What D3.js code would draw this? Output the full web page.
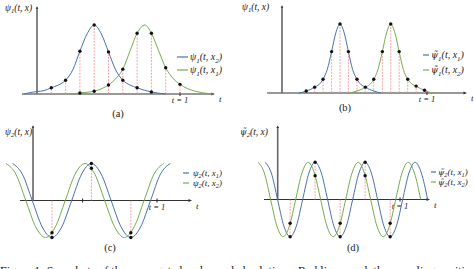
<!DOCTYPE html>
<html>
<head>
<meta charset="utf-8">
<script src="https://cdn.jsdelivr.net/npm/d3@7"></script>
<style>
  body { margin: 0; background: #fff; }
  svg { display: block; }
  text { font-family: "Liberation Serif", "DejaVu Serif", serif; fill: #222; }
</style>
</head>
<body>
<svg id="fig" width="474" height="269"></svg>
<script>
// values (t along the axis, curve height with peak = 1)

// (a) propagated bumps
const tA_blue = [-0.09, -0.05, 0, 0.05, 0.1, 0.15, 0.2, 0.25, 0.3, 0.35, 0.4, 0.45, 0.5, 0.55, 0.6, 0.65, 0.7, 0.75, 0.8, 0.85, 0.9];
const vA_blue = [0, 0.02, 0.035, 0.05, 0.09, 0.13, 0.2, 0.35, 0.62, 0.87, 1, 0.87, 0.61, 0.35, 0.2, 0.13, 0.09, 0.055, 0.03, 0.012, 0];
const tA_green = [0.23, 0.3, 0.35, 0.4, 0.45, 0.5, 0.55, 0.6, 0.65, 0.7, 0.755, 0.8, 0.85, 0.9, 0.95, 1.0, 1.05, 1.1, 1.15, 1.2, 1.23];
const vA_green = [0, 0.015, 0.025, 0.04, 0.075, 0.13, 0.22, 0.36, 0.62, 0.88, 1, 0.88, 0.63, 0.38, 0.23, 0.14, 0.08, 0.045, 0.02, 0.007, 0];
const sampA_t = [0.1, 0.2, 0.3, 0.4, 0.5, 0.6, 0.7, 0.8, 0.9, 1.0];
const sampA_blue = [0.09, 0.2, 0.62, 1, 0.61, 0.2, 0.09, 0.03, null, null];
const sampA_green = [null, null, 0.015, 0.04, 0.13, 0.36, 0.88, 0.88, 0.38, 0.14];

// (b) narrower bumps, denser samples
const tB_blue = [0.115, 0.145, 0.167, 0.196, 0.225, 0.254, 0.283, 0.312, 0.342, 0.371, 0.4, 0.429, 0.458, 0.487, 0.517, 0.546, 0.575, 0.604, 0.633, 0.66, 0.685];
const vB_blue = [0, 0.012, 0.03, 0.05, 0.085, 0.12, 0.2, 0.34, 0.6, 0.87, 1, 0.87, 0.6, 0.34, 0.2, 0.12, 0.085, 0.05, 0.03, 0.012, 0];
const tB_green = [0.465, 0.49, 0.517, 0.546, 0.575, 0.604, 0.633, 0.662, 0.692, 0.721, 0.75, 0.779, 0.808, 0.837, 0.867, 0.896, 0.925, 0.954, 0.983, 1.01, 1.045];
const vB_green = [0, 0.012, 0.03, 0.05, 0.085, 0.12, 0.2, 0.34, 0.6, 0.87, 1, 0.87, 0.6, 0.34, 0.2, 0.13, 0.1, 0.065, 0.04, 0.015, 0];
const sampB_t = [0.167, 0.225, 0.283, 0.342, 0.4, 0.458, 0.517, 0.575, 0.633, 0.692, 0.75, 0.808, 0.867, 0.925, 0.983];
const sampB_v = [0.03, 0.085, 0.2, 0.6, 1, 0.6, 0.2, 0.085, 0.2, 0.6, 1, 0.6, 0.2, 0.1, 0.04];

// (c) slow waves
const tC_blue = [-0.165, -0.0855, -0.006, 0.0735, 0.153, 0.2325, 0.312, 0.3915, 0.471, 0.5505, 0.63, 0.7095, 0.789, 0.8685, 0.948, 1.0275, 1.107];
const vC_blue = [1, 0.71, 0, -0.71, -1, -0.71, 0, 0.71, 1, 0.71, 0, -0.71, -1, -0.71, 0, 0.71, 1];
const tC_green = [-0.217, -0.1375, -0.058, 0.0215, 0.101, 0.1805, 0.26, 0.3395, 0.419, 0.4985, 0.578, 0.6575, 0.737, 0.8165, 0.896, 0.9755, 1.055];
const vC_green = [1, 0.71, 0, -0.71, -1, -0.71, 0, 0.71, 1, 0.71, 0, -0.71, -1, -0.71, 0, 0.71, 1];
const sampC_t = [0.153, 0.471, 0.789];
const sampC_blue = [-1, 1, -1];
const sampC_green = [-0.87, 0.87, -0.87];
const ticksC = [0.4, 1];

// (d) fast waves
const tD_blue = [-0.103, -0.052, -0.001, 0.05, 0.1015, 0.153, 0.204, 0.255, 0.306, 0.357, 0.408, 0.459, 0.5105, 0.562, 0.613, 0.664, 0.715, 0.766, 0.817, 0.868, 0.9195, 0.971, 1.022, 1.073, 1.124, 1.175, 1.226];
const vD_blue = [1, 0.71, 0, -0.71, -1, -0.71, 0, 0.71, 1, 0.71, 0, -0.71, -1, -0.71, 0, 0.71, 1, 0.71, 0, -0.71, -1, -0.71, 0, 0.71, 1, 0.71, 0];
const tD_green = [-0.16, -0.109, -0.058, -0.007, 0.0445, 0.096, 0.147, 0.198, 0.249, 0.3, 0.351, 0.402, 0.4535, 0.505, 0.556, 0.607, 0.658, 0.709, 0.76, 0.811, 0.8625, 0.914, 0.965, 1.016, 1.067, 1.118, 1.169];
const vD_green = [1, 0.71, 0, -0.71, -1, -0.71, 0, 0.71, 1, 0.71, 0, -0.71, -1, -0.71, 0, 0.71, 1, 0.71, 0, -0.71, -1, -0.71, 0, 0.71, 1, 0.71, 0];
const sampD_t = [0.1015, 0.306, 0.5105, 0.715, 0.9195];
const sampD_blue = [-1, 1, -1, 1, -1];
const sampD_green = [-0.64, 0.64, -0.64, 0.64, -0.64];

const BLUE = "#4a70ad", GREEN = "#74ad4c", RED = "#f08c8c";

const svg = d3.select("#fig");

// ψ with subscripts; tilde as a combining mark (DejaVu places it properly)
function mathText(g, x, y, fs, tilde, sub, argSub) {
  const t = g.append("text").attr("x", x).attr("y", y)
    .attr("font-size", fs).style("font-style", "italic");
  if (tilde) {
    t.append("tspan").style("font-family", "'DejaVu Serif'")
      .attr("font-size", fs * 0.9).text("\u03C8\u0303");
  } else {
    t.append("tspan").text("\u03C8");
  }
  t.append("tspan").attr("font-size", fs * 0.7).attr("dy", fs * 0.22).text(sub);
  t.append("tspan").attr("dy", -fs * 0.22).text("(t, x");
  if (argSub) {
    t.append("tspan").attr("font-size", fs * 0.7).attr("dy", fs * 0.22).text(argSub);
    t.append("tspan").attr("dy", -fs * 0.22).text(")");
  } else {
    t.append("tspan").text(")");
  }
}

function drawPanel(p) {
  const x = d3.scaleLinear().domain([0, 1]).range([p.x0, p.x1]);
  const y = d3.scaleLinear().domain([0, 1]).range([p.yBase, p.yOne]);
  const g = svg.append("g");

  // axes
  g.append("line")
    .attr("x1", x(p.axisT[0])).attr("x2", x(p.axisT[1]))
    .attr("y1", y(0)).attr("y2", y(0))
    .attr("stroke", "#333").attr("stroke-width", 1.1);
  g.append("path")
    .attr("d", `M${x(p.axisT[1]) + 2},${y(0)} l-3.5,-1.6 l0,3.2 z`)
    .attr("fill", "#333");
  g.append("line")
    .attr("x1", x(0)).attr("x2", x(0))
    .attr("y1", y(p.yFrom)).attr("y2", y(p.axisTop))
    .attr("stroke", "#666").attr("stroke-width", 1.6);
  g.append("path")
    .attr("d", `M${x(0)},${y(p.axisTop) - 1.5} l-1.3,2.5 l2.6,0 z`)
    .attr("fill", "#333");
  g.selectAll("line.tick").data(p.ticks).join("line")
    .attr("class", "tick")
    .attr("x1", d => x(d)).attr("x2", d => x(d))
    .attr("y1", y(0) - 2).attr("y2", y(0) + 2)
    .attr("stroke", "#222").attr("stroke-width", 1);

  g.append("text").attr("x", x(p.axisT[1]) + 6).attr("y", y(0) + 8)
    .attr("font-size", 9).style("font-style", "italic").text("t");
  g.append("text").attr("x", x(1)).attr("y", y(0) + 9)
    .attr("text-anchor", "middle").attr("font-size", 8.5)
    .style("font-style", "italic").text("t = 1");

  // red sample lines
  const samples = p.sampT.map((t, i) => {
    const vals = p.sampVals.map(a => a[i]).filter(v => v !== null);
    const top = vals.reduce((m, v) => Math.abs(v) > Math.abs(m) ? v : m, 0);
    return { t, vals, top };
  });
  g.selectAll("line.samp").data(samples).join("line")
    .attr("class", "samp")
    .attr("x1", d => x(d.t)).attr("x2", d => x(d.t))
    .attr("y1", y(0)).attr("y2", d => y(d.top))
    .attr("stroke", RED).attr("stroke-width", 0.8)
    .attr("stroke-dasharray", "2,1.2");

  // curves
  const line = d3.line().x(d => x(d[0])).y(d => y(d[1])).curve(d3.curveMonotoneX);
  p.curves.forEach(c => {
    g.append("path").datum(d3.zip(c.t, c.v))
      .attr("d", line).attr("fill", "none")
      .attr("stroke", c.color).attr("stroke-width", 1);
  });

  // sample dots
  const dots = samples.flatMap(s => s.vals.map(v => ({ t: s.t, v })));
  g.selectAll("circle").data(dots).join("circle")
    .attr("cx", d => x(d.t)).attr("cy", d => y(d.v))
    .attr("r", 1.7).attr("fill", "#111");

  // legend
  p.legend.forEach((l, i) => {
    const ly = p.legY[i];
    g.append("line").attr("x1", p.legX[0]).attr("x2", p.legX[1])
      .attr("y1", ly).attr("y2", ly)
      .attr("stroke", p.curves[i].color).attr("stroke-width", 1.2);
    mathText(g, p.legX[2], ly + p.legFs * 0.33, p.legFs, p.tildeLeg, p.sub, l);
  });

  // y label and panel tag
  mathText(g, p.yLab[0], p.yLab[1], 9.5, p.tildeY, p.sub, null);
  g.append("text").attr("x", p.tag[0]).attr("y", p.tag[1])
    .attr("text-anchor", "middle").attr("font-size", 10.5).text(p.tag[2]);
}

const panels = [
  {
    x0: 37, x1: 180, yBase: 94, yOne: 25, axisT: [-0.105, 1.23], axisTop: 1.25, yFrom: 0,
    ticks: [1], sampT: sampA_t, sampVals: [sampA_blue, sampA_green],
    curves: [{ t: tA_blue, v: vA_blue, color: BLUE }, { t: tA_green, v: vA_green, color: GREEN }],
    legend: ["2", "1"], legX: [177, 188, 190], legY: [57, 70], legFs: 10,
    sub: "1", tildeLeg: false, tildeY: false, yLab: [5, 11], tag: [118, 116.5, "(a)"]
  },
  {
    x0: 282, x1: 427, yBase: 93, yOne: 24, axisT: [-0.103, 1.262], axisTop: 1.25, yFrom: 0,
    ticks: [1], sampT: sampB_t, sampVals: [sampB_v],
    curves: [{ t: tB_blue, v: vB_blue, color: BLUE }, { t: tB_green, v: vB_green, color: GREEN }],
    legend: ["1", "2"], legX: [423, 429, 431], legY: [55, 70], legFs: 10,
    sub: "1", tildeLeg: true, tildeY: false, yLab: [242, 10], tag: [345, 111, "(b)"]
  },
  {
    x0: 33, x1: 157, yBase: 200.5, yOne: 163.5, axisT: [-0.105, 1.266], axisTop: 1.99, yFrom: 0,
    ticks: ticksC, sampT: sampC_t, sampVals: [sampC_blue, sampC_green],
    curves: [{ t: tC_blue, v: vC_blue, color: BLUE }, { t: tC_green, v: vC_green, color: GREEN }],
    legend: ["1", "2"], legX: [183, 189, 193], legY: [173, 183], legFs: 9,
    sub: "2", tildeLeg: false, tildeY: false, yLab: [5, 135], tag: [110, 251, "(c)"]
  },
  {
    x0: 277.7, x1: 400, yBase: 199.5, yOne: 162.3, axisT: [-0.112, 1.229], axisTop: 1.95, yFrom: 0,
    ticks: [1], sampT: sampD_t, sampVals: [sampD_blue, sampD_green],
    curves: [{ t: tD_blue, v: vD_blue, color: BLUE }, { t: tD_green, v: vD_green, color: GREEN }],
    legend: ["1", "2"], legX: [431, 436, 438], legY: [172, 182], legFs: 9,
    sub: "2", tildeLeg: true, tildeY: true, yLab: [240, 135], tag: [353, 251, "(d)"]
  }
];

panels.forEach(drawPanel);

// caption, mostly cut off by the bottom edge as in the source figure
svg.append("text").attr("x", 0).attr("y", 275).attr("font-size", 12)
  .text("Figure 1: Snapshots of the propagated and sampled solutions. Red lines mark the sampling positions, while");
</script>
</body>
</html>
